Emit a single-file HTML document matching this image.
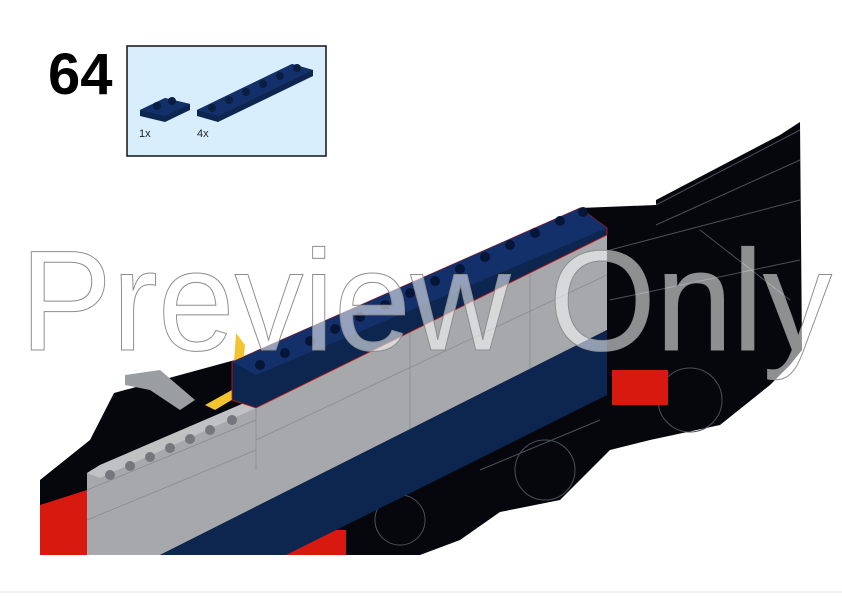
<!DOCTYPE html>
<html><head><meta charset="utf-8"><style>
html,body{margin:0;padding:0;background:#fff;width:842px;height:596px;overflow:hidden}
svg{display:block}
</style></head><body>
<svg width="842" height="596" viewBox="0 0 842 596" xmlns="http://www.w3.org/2000/svg" font-family="Liberation Sans, sans-serif">
<rect width="842" height="596" fill="#fff"/>
<text x="48" y="94" font-size="58" font-weight="bold" fill="#000">64</text>
<rect x="127" y="46" width="199" height="110" fill="#d8eefc" stroke="#111" stroke-width="1.5"/>
<polygon points="140,110 165,98 190,104 190,110 165,122 140,116" fill="#0d2650"/>
<polygon points="140,110 165,98 190,104 165,116" fill="#13306a"/>
<circle cx="157" cy="106" r="4" fill="#0a1e40"/><circle cx="172" cy="101" r="4" fill="#0a1e40"/>
<polygon points="197,110 292,64 313,70 313,76 218,122 197,116" fill="#0d2650"/>
<polygon points="197,110 292,64 313,70 218,116" fill="#13306a"/>
<g fill="#0a1e40"><circle cx="212" cy="108" r="4"/><circle cx="229" cy="100" r="4"/><circle cx="246" cy="92" r="4"/><circle cx="263" cy="84" r="4"/><circle cx="280" cy="76" r="4"/><circle cx="297" cy="68" r="4"/></g>
<text x="139" y="137" font-size="11" fill="#222">1x</text>
<text x="197" y="137" font-size="11" fill="#222">4x</text>
<!-- black mass -->
<polygon points="40,480 90,440 114,393 235,360 580,208 656,205 656,200 780,135 800,122 802,350 790,365 770,385 720,425 650,440 610,450 560,500 500,512 460,540 420,555 40,555" fill="#05070c"/>
<g stroke="#4a4f58" stroke-width="1" fill="none">
<line x1="656" y1="205" x2="800" y2="130"/><line x1="656" y1="225" x2="800" y2="160"/><line x1="610" y1="250" x2="800" y2="200"/>
<line x1="610" y1="300" x2="800" y2="260"/><circle cx="690" cy="400" r="32"/><circle cx="545" cy="470" r="30"/><circle cx="400" cy="520" r="25"/>
<line x1="480" y1="470" x2="600" y2="420"/><line x1="700" y1="230" x2="790" y2="300"/>
</g>
<rect x="612" y="370" width="56" height="35" fill="#d8190f"/>
<rect x="286" y="530" width="60" height="25" fill="#d8190f"/>
<polygon points="40,505 87,490 87,555 40,555" fill="#d8190f"/>
<polygon points="125,375 160,370 195,400 180,410 150,390 125,385" fill="#9a9da1"/>
<polygon points="236,333 245,345 240,395 215,410 205,405 232,390" fill="#f2c530"/>
<polygon points="87,473 100,465 256,398 607,228 607,330 160,555 87,555" fill="#a6a8ab"/>
<polygon points="87,473 100,465 256,398 256,408 100,478" fill="#bfc1c3"/>
<g stroke="#8a8c8f" stroke-width="0.8">
<line x1="87" y1="490" x2="256" y2="420"/><line x1="87" y1="520" x2="256" y2="450"/><line x1="256" y1="405" x2="256" y2="470"/>
<line x1="256" y1="440" x2="607" y2="275"/><line x1="410" y1="330" x2="410" y2="440"/><line x1="530" y1="270" x2="530" y2="380"/>
</g>
<g fill="#74777b"><circle cx="110" cy="475" r="5"/><circle cx="130" cy="466" r="5"/><circle cx="150" cy="457" r="5"/><circle cx="170" cy="448" r="5"/><circle cx="190" cy="439" r="5"/><circle cx="210" cy="430" r="5"/><circle cx="232" cy="420" r="5"/></g>
<polygon points="160,555 607,330 607,395 286,555" fill="#0d2650"/>
<polygon points="232,362 580,208 607,228 607,235 256,408 232,400" fill="#0d2650" stroke="#d8190f" stroke-width="0.8"/>
<polygon points="232,362 580,208 607,228 256,375" fill="#13306a"/>
<g fill="#061638"><circle cx="260" cy="365" r="5"/><circle cx="285" cy="353" r="5"/><circle cx="310" cy="341" r="5"/><circle cx="335" cy="329" r="5"/><circle cx="360" cy="317" r="5"/><circle cx="385" cy="305" r="5"/><circle cx="410" cy="293" r="5"/><circle cx="435" cy="281" r="5"/><circle cx="460" cy="269" r="5"/><circle cx="485" cy="257" r="5"/><circle cx="510" cy="245" r="5"/><circle cx="535" cy="233" r="5"/><circle cx="560" cy="221" r="5"/><circle cx="583" cy="212" r="5"/></g>
<text x="20" y="350" font-size="143" textLength="812" lengthAdjust="spacingAndGlyphs" fill="#fff" fill-opacity="0.55" stroke="#8c8c8c" stroke-width="1">Preview Only</text>
<line x1="0" y1="592" x2="842" y2="592" stroke="#e2e2e2" stroke-width="1"/>
</svg>
</body></html>
